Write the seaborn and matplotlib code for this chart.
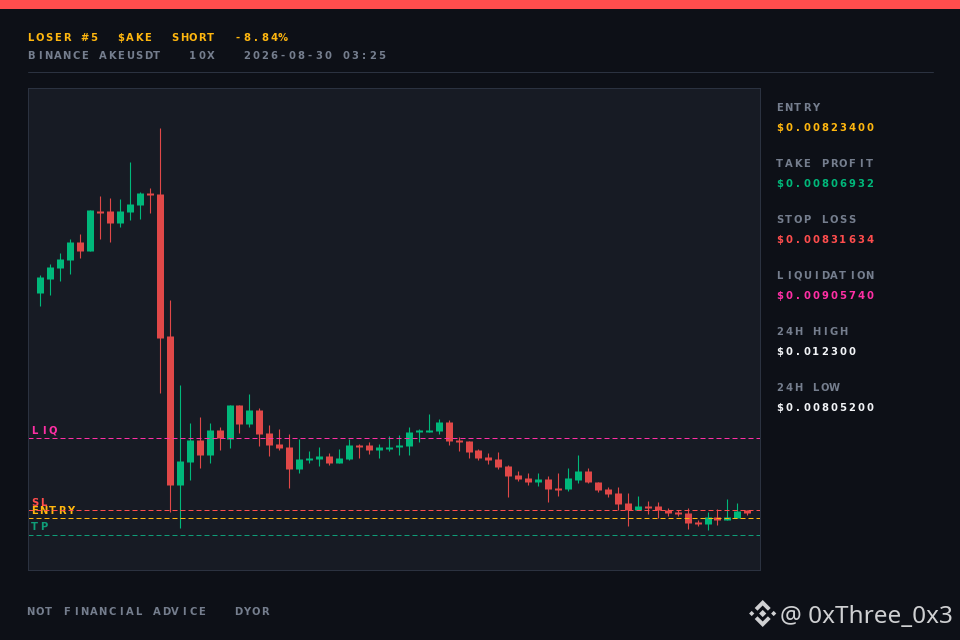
# card_plot.py
import matplotlib
matplotlib.use("Agg")
import matplotlib.pyplot as plt
from matplotlib.patches import Polygon, Rectangle
from matplotlib.text import Text
from matplotlib.transforms import Bbox, IdentityTransform
import numpy as np
import pandas as pd
import seaborn as sns

# candles
open_px = [0.010552, 0.010696, 0.010809, 0.010892, 0.011077, 0.010984, 0.011396, 0.011396, 0.011272, 0.011386,
           0.011458, 0.011581, 0.011571, 0.010110, 0.008576, 0.008813, 0.009039, 0.008885, 0.009142, 0.009050,
           0.009400, 0.009204, 0.009348, 0.009111, 0.008998, 0.008967, 0.008741, 0.008834, 0.008844, 0.008875,
           0.008803, 0.008844, 0.008988, 0.008988, 0.008936, 0.008947, 0.008967, 0.008978, 0.009122, 0.009122,
           0.009132, 0.009225, 0.009039, 0.009029, 0.008936, 0.008864, 0.008844, 0.008772, 0.008679, 0.008648,
           0.008607, 0.008638, 0.008545, 0.008535, 0.008628, 0.008720, 0.008607, 0.008535, 0.008494, 0.008391,
           0.008319, 0.008360, 0.008360, 0.008319, 0.008299, 0.008288, 0.008196, 0.008175, 0.008247, 0.008216,
           0.008237, 0.008319]
high_px = [0.010737, 0.010850, 0.010964, 0.011108, 0.011159, 0.011406, 0.011550, 0.011530, 0.011519, 0.011900,
           0.011591, 0.011632, 0.012250, 0.010480, 0.009605, 0.009214, 0.009276, 0.009214, 0.009173, 0.009400,
           0.009400, 0.009513, 0.009369, 0.009194, 0.009153, 0.009101, 0.009050, 0.008926, 0.008967, 0.008906,
           0.008947, 0.009050, 0.008998, 0.009019, 0.008998, 0.009081, 0.009091, 0.009173, 0.009153, 0.009307,
           0.009255, 0.009245, 0.009070, 0.009029, 0.008947, 0.008906, 0.008916, 0.008782, 0.008720, 0.008700,
           0.008700, 0.008669, 0.008700, 0.008751, 0.008885, 0.008751, 0.008607, 0.008556, 0.008556, 0.008494,
           0.008463, 0.008412, 0.008401, 0.008340, 0.008319, 0.008340, 0.008216, 0.008299, 0.008329, 0.008432,
           0.008391, 0.008319]
low_px = [0.010421, 0.010531, 0.010676, 0.010748, 0.010912, 0.010984, 0.011108, 0.011077, 0.011231, 0.011303,
          0.011313, 0.011375, 0.009523, 0.008302, 0.008137, 0.008628, 0.008751, 0.008803, 0.008936, 0.008957,
          0.009111, 0.009173, 0.008978, 0.008875, 0.008936, 0.008545, 0.008700, 0.008803, 0.008772, 0.008782,
          0.008803, 0.008834, 0.008854, 0.008895, 0.008854, 0.008926, 0.008885, 0.008885, 0.009019, 0.009122,
          0.009101, 0.008988, 0.008926, 0.008854, 0.008834, 0.008792, 0.008741, 0.008453, 0.008617, 0.008576,
          0.008566, 0.008401, 0.008463, 0.008515, 0.008597, 0.008597, 0.008504, 0.008453, 0.008319, 0.008154,
          0.008319, 0.008278, 0.008237, 0.008257, 0.008257, 0.008124, 0.008154, 0.008113, 0.008165, 0.008216,
          0.008237, 0.008268]
close_px = [0.010717, 0.010820, 0.010902, 0.011077, 0.010984, 0.011406, 0.011375, 0.011272, 0.011396, 0.011468,
            0.011581, 0.011560, 0.010089, 0.008576, 0.008823, 0.009039, 0.008885, 0.009142, 0.009060, 0.009400,
            0.009204, 0.009348, 0.009101, 0.008988, 0.008957, 0.008741, 0.008844, 0.008854, 0.008875, 0.008803,
            0.008854, 0.008988, 0.008967, 0.008936, 0.008967, 0.008967, 0.008988, 0.009122, 0.009142, 0.009142,
            0.009225, 0.009029, 0.009019, 0.008916, 0.008854, 0.008834, 0.008762, 0.008669, 0.008638, 0.008607,
            0.008638, 0.008535, 0.008525, 0.008648, 0.008720, 0.008607, 0.008525, 0.008484, 0.008381, 0.008319,
            0.008360, 0.008340, 0.008319, 0.008288, 0.008278, 0.008185, 0.008175, 0.008247, 0.008216, 0.008247,
            0.008309, 0.008288]

# levels as they sit on the chart
level_names = ["LIQ", "SL", "ENTRY", "TP"]
level_prices = [0.0090574, 0.00831634, 0.008234, 0.00806]
level_label_y = [433.5, 505.5, 513.5, 530.5]

# side panel
panel_labels = ["ENTRY", "TAKE PROFIT", "STOP LOSS", "LIQUIDATION", "24H HIGH", "24H LOW"]
panel_values = ["$0.00823400", "$0.00806932", "$0.00831634", "$0.00905740", "$0.012300", "$0.00805200"]

BG = "#0d1017"
PANEL = "#171b24"
EDGE = "#2b3240"
GREY = "#757e8e"
GOLD = "#ffb70f"
GREEN = "#00b87a"
RED = "#e04848"
SL_RED = "#ff4d4d"
PINK = "#ff2fa5"
TP_GREEN = "#0f9d78"
WHITE = "#f2f4f7"
panel_colors = [GOLD, GREEN, SL_RED, PINK, WHITE, WHITE]
level_colors = [PINK, SL_RED, GOLD, TP_GREEN]


class TrackedText(Text):
    # fixed letter cells, matplotlib has no letter spacing option
    def __init__(self, x, y, s, advance=9.0, **kw):
        super().__init__(x, 640 - y, s, transform=IdentityTransform(), ha="center", va="baseline", **kw)
        self.left = x
        self.advance = advance

    def draw(self, renderer):
        full = self.get_text()
        for i, ch in enumerate(full):
            self.set_text(ch)
            self.set_x(self.left + 2.8 + i * self.advance)
            super().draw(renderer)
        self.set_text(full)

    def get_window_extent(self, renderer=None, dpi=None):
        base = self.get_position()[1]
        return Bbox.from_extents(self.left, base, self.left + len(self.get_text()) * self.advance, base + 7.5)


def label(owner, x, y, s, color, zorder=3):
    t = TrackedText(x, y, s, color=color, family="DejaVu Sans", weight="bold", fontsize=7.2, zorder=zorder)
    t.set_clip_on(False)
    owner.add_artist(t)


sns.set_theme(style="dark", rc={"axes.facecolor": PANEL, "figure.facecolor": BG})

df = pd.DataFrame({"i": range(len(open_px)), "open": open_px, "high": high_px, "low": low_px, "close": close_px})
df["dir"] = np.where(df["close"] >= df["open"], "up", "down")
wicks = df.melt(id_vars=["i", "dir"], value_vars=["low", "high"], value_name="price")
bodies = df.melt(id_vars=["i", "dir"], value_vars=["open", "close"], value_name="price")
palette = {"up": GREEN, "down": RED}

fig = plt.figure(figsize=(9.6, 6.4), dpi=100)
ax = fig.add_axes([28 / 960, 69.7 / 640, 732 / 960, 482 / 640])

sns.lineplot(data=wicks, x="i", y="price", hue="dir", units="i", estimator=None, palette=palette,
             legend=False, linewidth=0.8, solid_capstyle="butt", ax=ax)
sns.lineplot(data=bodies, x="i", y="price", hue="dir", units="i", estimator=None, palette=palette,
             legend=False, linewidth=5.04, solid_capstyle="butt", ax=ax)

for price, color in zip(level_prices, level_colors):
    ax.axhline(price, color=color, linewidth=0.72, linestyle=(0, (5, 3)), zorder=2.5)

ax.set_xlim(-1.235, 72.27)
ax.set_ylim(0.007699, 0.012658)
ax.set(xlabel="", ylabel="", xticks=[], yticks=[])
for spine in ax.spines.values():
    spine.set_color(EDGE)
    spine.set_linewidth(0.72)

for name, y, color in zip(level_names, level_label_y, level_colors):
    label(ax, 32, y, name, color, zorder=1.5)

# header, footer
fig.add_artist(Rectangle((0, 631), 960, 9, transform=IdentityTransform(), color="#ff4d4d", lw=0))
label(fig, 28, 41, "LOSER #5  $AKE  SHORT  -8.84%", GOLD)
label(fig, 28, 59, "BINANCE AKEUSDT   10X   2026-08-30 03:25", GREY)
fig.add_artist(plt.Line2D([28, 933], [567.7, 567.7], transform=IdentityTransform(), color=EDGE, lw=0.72))
label(fig, 28, 615, "NOT FINANCIAL ADVICE   DYOR", GREY)

for n, (name, value, color) in enumerate(zip(panel_labels, panel_values, panel_colors)):
    label(fig, 777, 111 + n * 56, name, GREY)
    label(fig, 777, 131 + n * 56, value, color)

# watermark
LOGO = "#cfd0d2"
cx, cy = 762.7, 640 - 613.5
top = np.array([(0, 13.5), (8, 5.5), (5.2, 2.8), (0, 8), (-5.2, 2.8), (-8, 5.5)])
centre = np.array([(0, 3.6), (3.6, 0), (0, -3.6), (-3.6, 0)])
side = np.array([(0, 2.6), (2.6, 0), (0, -2.6), (-2.6, 0)])
shapes = [top, top * [1, -1], centre, side + [-11, 0], side + [11, 0]]
for shape in shapes:
    fig.add_artist(Polygon(shape + [cx, cy], closed=True, transform=IdentityTransform(), color=LOGO, lw=0))
fig.text(780 / 960, 1 - 623 / 640, "@ 0xThree_0x3", color=LOGO, family="Noto Sans", fontsize=17.5,
         ha="left", va="baseline")

fig.savefig("out.png", dpi=100, facecolor=BG)
